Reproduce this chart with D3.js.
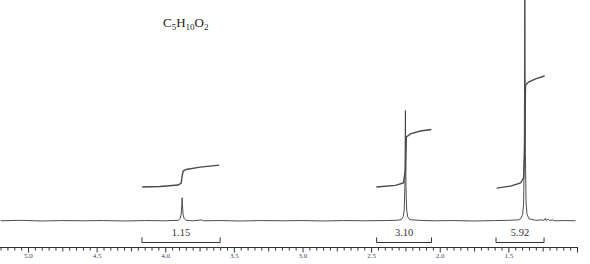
<!DOCTYPE html>
<html>
<head>
<meta charset="utf-8">
<script src="https://cdn.jsdelivr.net/npm/d3@7"></script>
<style>
  html, body { margin: 0; padding: 0; background: #fff; }
  svg { display: block; font-family: "Liberation Serif", "DejaVu Serif", serif; }
</style>
</head>
<body>
<div id="chart"></div>
<script>
// spectrum trace: [ppm, relative intensity]
const spectrum = [
  [5.20, 0.1], [5.05, 0.3], [4.90, 0.0], [4.75, 0.2], [4.60, 0.1], [4.45, 0.2], [4.30, 0.0], [4.15, 0.2], [4.00, 0.1],
  [3.905, 0.3], [3.891, 1.2], [3.884, 3], [3.879, 7.5], [3.877, 10.5], [3.875, 7.5], [3.870, 3], [3.863, 1.2], [3.849, 0.3],
  [3.80, 0.1], [3.735, 0.5], [3.72, 0.1], [3.60, 0.2], [3.45, 0.0], [3.30, 0.2], [3.15, 0.1], [3.00, 0.2], [2.85, 0.0],
  [2.70, 0.2], [2.55, 0.1], [2.40, 0.2], [2.32, 0.3],
  [2.280, 0.6], [2.266, 2], [2.259, 5], [2.254, 15], [2.250, 50], [2.246, 15], [2.241, 5], [2.234, 2], [2.220, 0.6],
  [2.15, 0.3], [2.05, 0.1], [1.90, 0.2], [1.75, 0.0], [1.60, 0.2], [1.50, 0.3], [1.43, 0.5],
  [1.41, 1], [1.396, 3], [1.389, 8], [1.384, 30], [1.380, 110], [1.376, 30], [1.371, 8], [1.364, 3], [1.350, 1],
  [1.30, 0.3], [1.26, 0.5], [1.24, 0.3], [1.23, 1.2], [1.225, 0.3], [1.21, 0.8], [1.20, 0.2], [1.18, 0.5], [1.16, 0.1],
  [1.10, 0.2], [1.01, 0.1]
];

// integral curves: [ppm, level]
const integral1 = [[4.168, 15.4], [4.037, 15.6], [3.906, 16.3], [3.884, 17.2], [3.877, 20.4], [3.869, 22.6], [3.848, 23.3], [3.745, 24.4], [3.607, 25.3]];
const integral2 = [[2.462, 15.4], [2.323, 16.1], [2.265, 17.2], [2.250, 23.1], [2.243, 38.0], [2.214, 39.4], [2.141, 40.7], [2.061, 41.4]];
const integral3 = [[1.586, 14.9], [1.484, 15.8], [1.411, 17.2], [1.389, 19.5], [1.382, 32.1], [1.375, 61.5], [1.353, 62.9], [1.302, 64.3], [1.236, 65.6]];

// integration brackets: ppm from / to and the label
const integralRanges = [[4.17, 3.60], [2.46, 2.06], [1.59, 1.24]];
const integralLabels = ['1.15', '3.10', '5.92'];

const majorTicks = [5.0, 4.5, 4.0, 3.5, 3.0, 2.5, 2.0, 1.5];

const width = 590, height = 264;
const svg = d3.select('#chart').append('svg')
  .attr('width', width)
  .attr('height', height);

const x = d3.scaleLinear().domain([5.204, 1.0]).range([0, 577]);
const y = d3.scaleLinear().domain([0, 100]).range([221, 0]);

// spectrum
const line = d3.line().x(d => x(d[0])).y(d => y(d[1]));
svg.append('path')
  .datum(spectrum)
  .attr('d', line)
  .attr('fill', 'none')
  .attr('stroke', '#3a3a3a')
  .attr('stroke-width', 0.9);

// integrals
[integral1, integral2, integral3].forEach(curve => {
  svg.append('path')
    .datum(curve)
    .attr('d', line)
    .attr('fill', 'none')
    .attr('stroke', '#4a4a4a')
    .attr('stroke-width', 1.4);
});

// brackets + values
const brackets = svg.append('g');
integralRanges.forEach((r, i) => {
  const x0 = x(r[0]), x1 = x(r[1]);
  brackets.append('path')
    .attr('d', `M${x0},237.5V242.5H${x1}V237.5`)
    .attr('fill', 'none')
    .attr('stroke', '#333')
    .attr('stroke-width', 1);
  brackets.append('text')
    .attr('x', (x0 + x1) / 2)
    .attr('y', 236)
    .attr('text-anchor', 'middle')
    .attr('font-size', 10.5)
    .attr('fill', '#333')
    .text(integralLabels[i]);
});

// ppm axis, minor tick every 0.05
const tickVals = d3.range(20, 105).map(i => i / 20);
const axis = d3.axisBottom(x)
  .tickValues(tickVals)
  .tickSizeOuter(0)
  .tickSize(3)
  .tickFormat(d => majorTicks.some(m => Math.abs(m - d) < 1e-6) ? d.toFixed(1) : '');

const gx = svg.append('g')
  .attr('transform', 'translate(0,247.5)')
  .call(axis);
gx.select('.domain').attr('stroke', '#333').attr('d', 'M0,0H578');
gx.selectAll('.tick line')
  .attr('stroke', '#333')
  .attr('y2', d => {
    const k = Math.round(d * 20);
    return k % 10 === 0 ? 5 : (k % 5 === 0 ? 4 : 3);
  });
gx.selectAll('.tick text')
  .attr('y', 6)
  .attr('font-size', 7)
  .attr('font-family', '"Liberation Serif", serif')
  .attr('fill', '#3b4a6b');

// molecular formula
const title = svg.append('text')
  .attr('x', 163)
  .attr('y', 27)
  .attr('font-size', 13)
  .attr('fill', '#222');
title.append('tspan').text('C');
title.append('tspan').attr('font-size', 9).attr('dy', 3).text('5');
title.append('tspan').attr('dy', -3).text('H');
title.append('tspan').attr('font-size', 9).attr('dy', 3).text('10');
title.append('tspan').attr('dy', -3).text('O');
title.append('tspan').attr('font-size', 9).attr('dy', 3).text('2');
</script>
</body>
</html>
